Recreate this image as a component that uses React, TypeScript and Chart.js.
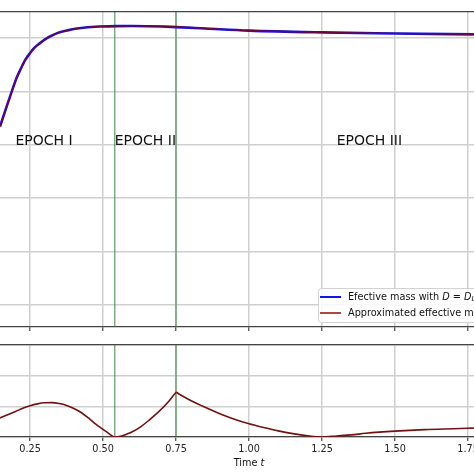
import { useEffect, useRef } from "react";
import { Chart, registerables } from "chart.js";

Chart.register(...registerables);

// ---- data ----
const xTickValues = [0.25, 0.5, 0.75, 1.0, 1.25, 1.5, 1.75];
const topYTickValues = [1, 2, 3, 4, 5, 6];
const bottomYTickValues = [0, 1, 2, 3];

const timeTop = [0.147, 0.153, 0.16, 0.17, 0.18, 0.193, 0.205, 0.216, 0.233, 0.25, 0.267, 0.284, 0.3, 0.318, 0.345, 0.376, 0.4, 0.432, 0.46, 0.49, 0.547, 0.6, 0.65, 0.7, 0.75, 0.85, 1.0, 1.25, 1.5, 1.77];
const effectiveMass = [4.34, 4.44, 4.556, 4.72, 4.88, 5.09, 5.268, 5.4, 5.587, 5.72, 5.83, 5.906, 5.973, 6.03, 6.098, 6.142, 6.171, 6.193, 6.208, 6.217, 6.225, 6.226, 6.224, 6.218, 6.207, 6.18, 6.14, 6.107, 6.088, 6.07];
const approxMass = [4.34, 4.44, 4.556, 4.72, 4.88, 5.09, 5.268, 5.4, 5.588, 5.722, 5.832, 5.908, 5.975, 6.032, 6.1, 6.145, 6.174, 6.196, 6.211, 6.22, 6.228, 6.229, 6.228, 6.222, 6.212, 6.184, 6.142, 6.108, 6.089, 6.071];

const timeBottom = [0.147, 0.175, 0.2, 0.225, 0.25, 0.275, 0.3, 0.325, 0.35, 0.375, 0.4, 0.425, 0.45, 0.475, 0.5, 0.52, 0.54, 0.55, 0.56, 0.58, 0.6, 0.63, 0.66, 0.69, 0.72, 0.745, 0.751, 0.757, 0.775, 0.8, 0.84, 0.9, 0.95, 1.0, 1.05, 1.1, 1.15, 1.2, 1.25, 1.3, 1.35, 1.4, 1.5, 1.6, 1.7, 1.77];
const relativeError = [0.62, 0.73, 0.83, 0.94, 1.02, 1.08, 1.115, 1.12, 1.09, 1.03, 0.93, 0.8, 0.62, 0.42, 0.25, 0.11, 0.0, 0.004, 0.02, 0.09, 0.17, 0.34, 0.57, 0.82, 1.11, 1.4, 1.46, 1.42, 1.32, 1.19, 1.01, 0.76, 0.58, 0.43, 0.31, 0.2, 0.11, 0.04, 0.0, 0.035, 0.07, 0.12, 0.19, 0.24, 0.27, 0.29];

const epochBoundaries = [0.54, 0.75];
const epochLabels = ["EPOCH I", "EPOCH II", "EPOCH III"];
const epochLabelTimes = [0.2, 0.54, 1.3];
const epochLabelLevel = 4;

const xMin = 0.147;
const xMax = 1.7705;
const topYMin = 0.58;
const topYMax = 6.49;
const bottomYMin = 0;
const bottomYMax = 3;

// ---- styles ----
const FONT = '"DejaVu Sans", "Liberation Sans", sans-serif';
const GRID = "#cfcfcf";
const SPINE = "#444444";
const GREEN = "rgba(40,120,40,0.6)";
const BLUE = "#1414e6";
const RED = "rgba(139,0,0,0.72)";
const DARKRED = "#6e1212";

const zip = (xs: number[], ys: number[]) => xs.map((x, i) => ({ x, y: ys[i] }));

const setTicks = (values: number[]) => (s: any) => {
  s.ticks = values.map((v) => ({ value: v }));
};

function vline(t: number, lo: number, hi: number) {
  return {
    data: [
      { x: t, y: lo },
      { x: t, y: hi },
    ],
    borderColor: GREEN,
    borderWidth: 1.5,
    pointRadius: 0,
    order: 5,
  };
}

const topDecor = {
  id: "topDecor",
  afterDatasetsDraw(chart: any) {
    const { ctx, chartArea, scales } = chart;
    const x = scales.x;
    const y = scales.y;
    ctx.save();
    ctx.beginPath();
    ctx.rect(chartArea.left, chartArea.top, chartArea.right - chartArea.left, chartArea.bottom - chartArea.top);
    ctx.clip();
    ctx.fillStyle = "#111";
    ctx.font = `14px ${FONT}`;
    ctx.textAlign = "left";
    ctx.textBaseline = "alphabetic";
    epochLabels.forEach((label, i) => {
      ctx.fillText(label, x.getPixelForValue(epochLabelTimes[i]), y.getPixelForValue(epochLabelLevel));
    });

    // legend (matplotlib-like, lower right)
    const bx = 318;
    const by = chartArea.bottom - 39;
    const bw = 220;
    const bh = 34;
    ctx.beginPath();
    if (ctx.roundRect) ctx.roundRect(bx + 0.5, by + 0.5, bw, bh, 3);
    else ctx.rect(bx + 0.5, by + 0.5, bw, bh);
    ctx.fillStyle = "rgba(255,255,255,0.85)";
    ctx.fill();
    ctx.strokeStyle = "#d2d2d2";
    ctx.lineWidth = 1;
    ctx.stroke();

    const ly1 = by + 9;
    const ly2 = by + 25;
    ctx.lineWidth = 2;
    ctx.strokeStyle = BLUE;
    ctx.beginPath();
    ctx.moveTo(320, ly1);
    ctx.lineTo(341, ly1);
    ctx.stroke();
    ctx.strokeStyle = RED;
    ctx.beginPath();
    ctx.moveTo(320, ly2);
    ctx.lineTo(341, ly2);
    ctx.stroke();

    ctx.fillStyle = "#111";
    ctx.textBaseline = "middle";
    let tx = 348;
    const normal = `9.7px ${FONT}`;
    const italic = `italic 9.7px ${FONT}`;
    const sub = `italic 7px ${FONT}`;
    const put = (txt: string, font: string, dy = 0) => {
      ctx.font = font;
      ctx.fillText(txt, tx, ly1 + dy);
      tx += ctx.measureText(txt).width;
    };
    put("Efective mass with ", normal);
    put("D", italic);
    put(" = ", normal);
    put("D", italic);
    put("LA", sub, 2.5);

    ctx.font = normal;
    ctx.fillText("Approximated effective mass", 348, ly2);
    ctx.restore();
  },
};

const bottomDecor = {
  id: "bottomDecor",
  afterDraw(chart: any) {
    const { ctx, scales } = chart;
    const x = scales.x;
    ctx.save();
    ctx.fillStyle = "#111";
    ctx.textBaseline = "middle";
    ctx.textAlign = "left";
    const normal = `9.7px ${FONT}`;
    const italic = `italic 9.7px ${FONT}`;
    ctx.font = normal;
    const w1 = ctx.measureText("Time ").width;
    ctx.font = italic;
    const w2 = ctx.measureText("t").width;
    const cx = x.getPixelForValue(1.0);
    const start = cx - (w1 + w2) / 2;
    const yy = chart.height - 11;
    ctx.font = normal;
    ctx.fillText("Time ", start, yy);
    ctx.font = italic;
    ctx.fillText("t", start + w1, yy);
    ctx.restore();
  },
};

function xAxis(showLabels: boolean, height?: number) {
  return {
    type: "linear",
    min: xMin,
    max: xMax,
    afterBuildTicks: setTicks(xTickValues),
    ticks: {
      display: showLabels,
      autoSkip: false,
      maxRotation: 0,
      padding: 3,
      color: "#222",
      font: { family: FONT, size: 9.7 },
      callback: (v: number) => Number(v).toFixed(2),
    },
    grid: { color: GRID, lineWidth: 1.5, drawTicks: true, tickLength: 4, tickColor: SPINE, tickWidth: 1.2 },
    border: { color: SPINE, width: 1.2 },
    afterFit: (s: any) => {
      s.paddingLeft = 0;
      s.paddingRight = 0;
      if (height !== undefined) s.height = height;
    },
  };
}

const topBorderAxis = {
  type: "linear",
  position: "top",
  min: 0,
  max: 1,
  display: true,
  ticks: { display: false },
  grid: { display: false, drawTicks: false },
  border: { display: true, color: SPINE, width: 1.2 },
  afterFit: (s: any) => {
    s.height = 0;
    s.paddingLeft = 0;
    s.paddingRight = 0;
  },
};

function yAxis(min: number, max: number, ticks: number[]) {
  return {
    type: "linear",
    min,
    max,
    afterBuildTicks: setTicks(ticks),
    ticks: { display: false },
    grid: { color: GRID, lineWidth: 1.5, drawTicks: false },
    border: { display: false },
    afterFit: (s: any) => {
      s.width = 0;
    },
  };
}

export default function App() {
  const topRef = useRef<HTMLCanvasElement>(null);
  const bottomRef = useRef<HTMLCanvasElement>(null);

  useEffect(() => {
    const top = new Chart(topRef.current as HTMLCanvasElement, {
      type: "line",
      data: {
        datasets: [
          ...epochBoundaries.map((t) => vline(t, topYMin, topYMax)),
          {
            label: "Efective mass",
            data: zip(timeTop, effectiveMass),
            borderColor: BLUE,
            borderWidth: 2.6,
            pointRadius: 0,
            cubicInterpolationMode: "monotone",
            order: 2,
          },
          {
            label: "Approximated effective mass",
            data: zip(timeTop, approxMass),
            borderColor: RED,
            borderWidth: 1.4,
            pointRadius: 0,
            cubicInterpolationMode: "monotone",
            order: 1,
          },
        ],
      } as any,
      options: {
        animation: false,
        responsive: false,
        events: [],
        layout: { padding: { top: 12, left: 0, right: 0, bottom: 0 } },
        plugins: { legend: { display: false }, tooltip: { enabled: false } },
        scales: {
          x: xAxis(false),
          x2: topBorderAxis,
          y: yAxis(topYMin, topYMax, topYTickValues),
        } as any,
      },
      plugins: [topDecor],
    });

    const bottom = new Chart(bottomRef.current as HTMLCanvasElement, {
      type: "line",
      data: {
        datasets: [
          ...epochBoundaries.map((t) => vline(t, bottomYMin, bottomYMax)),
          {
            label: "Relative error",
            data: zip(timeBottom, relativeError),
            borderColor: DARKRED,
            borderWidth: 1.6,
            pointRadius: 0,
            cubicInterpolationMode: "monotone",
            order: 1,
          },
        ],
      } as any,
      options: {
        animation: false,
        responsive: false,
        events: [],
        layout: { padding: { top: 14, left: 0, right: 0, bottom: 0 } },
        plugins: { legend: { display: false }, tooltip: { enabled: false } },
        scales: {
          x: xAxis(true, 37),
          x2: topBorderAxis,
          y: yAxis(bottomYMin, bottomYMax, bottomYTickValues),
        } as any,
      },
      plugins: [bottomDecor],
    });

    return () => {
      top.destroy();
      bottom.destroy();
    };
  }, []);

  return (
    <div
      style={{
        position: "fixed",
        left: 0,
        top: 0,
        width: 474,
        height: 474,
        overflow: "hidden",
        background: "#fff",
      }}
    >
      <canvas ref={topRef} width={474} height={331} style={{ position: "absolute", left: 0, top: 0, width: 474, height: 331 }} />
      <canvas ref={bottomRef} width={474} height={143} style={{ position: "absolute", left: 0, top: 331, width: 474, height: 143 }} />
    </div>
  );
}
